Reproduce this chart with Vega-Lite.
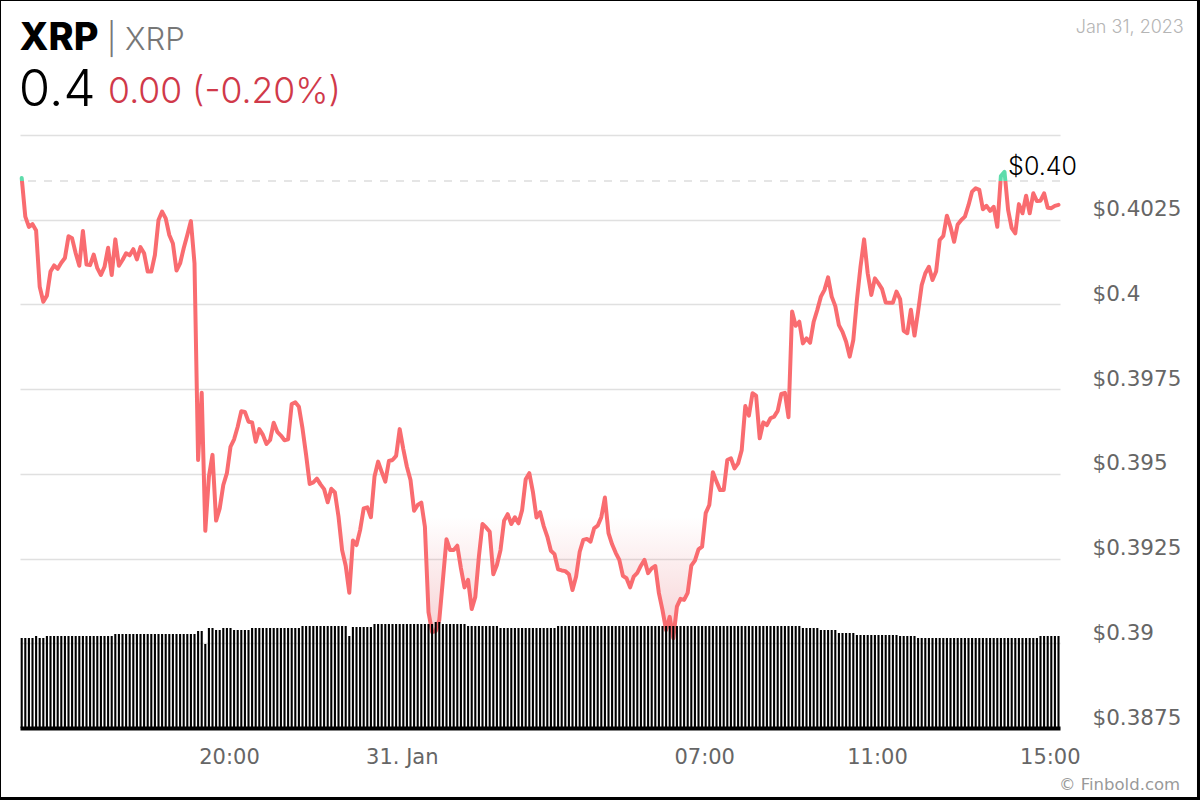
{"$schema":"https://vega.github.io/schema/vega-lite/v6.json","width":1040,"height":593,"autosize":{"type":"none"},"padding":{"left":20,"top":135,"right":140,"bottom":72},"background":"#ffffff","config":{"view":{"stroke":null}},
"data":{"values":[
{"t":"2023-01-30T15:10Z","p":0.40373,"v":90},{"t":"2023-01-30T15:15Z","p":0.40259,"v":90},{"t":"2023-01-30T15:20Z","p":0.40229,"v":90},{"t":"2023-01-30T15:25Z","p":0.40237,"v":90},{"t":"2023-01-30T15:30Z","p":0.40218,"v":92},{"t":"2023-01-30T15:35Z","p":0.40052,"v":90},{"t":"2023-01-30T15:40Z","p":0.40008,"v":90},{"t":"2023-01-30T15:45Z","p":0.40026,"v":92},{"t":"2023-01-30T15:50Z","p":0.40097,"v":92},{"t":"2023-01-30T15:55Z","p":0.40115,"v":92},
{"t":"2023-01-30T16:00Z","p":0.40105,"v":92},{"t":"2023-01-30T16:05Z","p":0.40123,"v":92},{"t":"2023-01-30T16:10Z","p":0.40137,"v":92},{"t":"2023-01-30T16:15Z","p":0.40201,"v":92},{"t":"2023-01-30T16:20Z","p":0.40195,"v":92},{"t":"2023-01-30T16:25Z","p":0.40151,"v":92},{"t":"2023-01-30T16:30Z","p":0.40114,"v":92},{"t":"2023-01-30T16:35Z","p":0.40217,"v":92},{"t":"2023-01-30T16:40Z","p":0.40118,"v":92},{"t":"2023-01-30T16:45Z","p":0.40116,"v":92},{"t":"2023-01-30T16:50Z","p":0.40147,"v":92},{"t":"2023-01-30T16:55Z","p":0.40107,"v":92},
{"t":"2023-01-30T17:00Z","p":0.40087,"v":92},{"t":"2023-01-30T17:05Z","p":0.40111,"v":92},{"t":"2023-01-30T17:10Z","p":0.40167,"v":92},{"t":"2023-01-30T17:15Z","p":0.40087,"v":92},{"t":"2023-01-30T17:20Z","p":0.40192,"v":94},{"t":"2023-01-30T17:25Z","p":0.40114,"v":94},{"t":"2023-01-30T17:30Z","p":0.40131,"v":94},{"t":"2023-01-30T17:35Z","p":0.40151,"v":94},{"t":"2023-01-30T17:40Z","p":0.40145,"v":94},{"t":"2023-01-30T17:45Z","p":0.40163,"v":94},{"t":"2023-01-30T17:50Z","p":0.40133,"v":94},{"t":"2023-01-30T17:55Z","p":0.40169,"v":94},
{"t":"2023-01-30T18:00Z","p":0.40151,"v":94},{"t":"2023-01-30T18:05Z","p":0.40097,"v":94},{"t":"2023-01-30T18:10Z","p":0.40097,"v":94},{"t":"2023-01-30T18:15Z","p":0.40146,"v":94},{"t":"2023-01-30T18:20Z","p":0.40249,"v":94},{"t":"2023-01-30T18:25Z","p":0.40274,"v":94},{"t":"2023-01-30T18:30Z","p":0.40254,"v":94},{"t":"2023-01-30T18:35Z","p":0.40205,"v":94},{"t":"2023-01-30T18:40Z","p":0.4018,"v":94},{"t":"2023-01-30T18:45Z","p":0.401,"v":94},{"t":"2023-01-30T18:50Z","p":0.40121,"v":94},{"t":"2023-01-30T18:55Z","p":0.40166,"v":94},
{"t":"2023-01-30T19:00Z","p":0.40205,"v":94},{"t":"2023-01-30T19:05Z","p":0.40246,"v":94},{"t":"2023-01-30T19:10Z","p":0.40121,"v":94},{"t":"2023-01-30T19:15Z","p":0.39541,"v":97},{"t":"2023-01-30T19:20Z","p":0.39739,"v":97},{"t":"2023-01-30T19:25Z","p":0.39332,"v":84},{"t":"2023-01-30T19:30Z","p":0.39492,"v":100},{"t":"2023-01-30T19:35Z","p":0.39556,"v":100},{"t":"2023-01-30T19:40Z","p":0.39362,"v":98},{"t":"2023-01-30T19:45Z","p":0.39398,"v":98},{"t":"2023-01-30T19:50Z","p":0.39467,"v":100},{"t":"2023-01-30T19:55Z","p":0.39502,"v":100},
{"t":"2023-01-30T20:00Z","p":0.3958,"v":100},{"t":"2023-01-30T20:05Z","p":0.39602,"v":98},{"t":"2023-01-30T20:10Z","p":0.39639,"v":98},{"t":"2023-01-30T20:15Z","p":0.39685,"v":98},{"t":"2023-01-30T20:20Z","p":0.39683,"v":98},{"t":"2023-01-30T20:25Z","p":0.39654,"v":98},{"t":"2023-01-30T20:30Z","p":0.39652,"v":100},{"t":"2023-01-30T20:35Z","p":0.39595,"v":100},{"t":"2023-01-30T20:40Z","p":0.39632,"v":100},{"t":"2023-01-30T20:45Z","p":0.39615,"v":100},{"t":"2023-01-30T20:50Z","p":0.39588,"v":100},{"t":"2023-01-30T20:55Z","p":0.396,"v":100},
{"t":"2023-01-30T21:00Z","p":0.39651,"v":100},{"t":"2023-01-30T21:05Z","p":0.39624,"v":100},{"t":"2023-01-30T21:10Z","p":0.39613,"v":100},{"t":"2023-01-30T21:15Z","p":0.39599,"v":100},{"t":"2023-01-30T21:20Z","p":0.39602,"v":100},{"t":"2023-01-30T21:25Z","p":0.39706,"v":100},{"t":"2023-01-30T21:30Z","p":0.39711,"v":100},{"t":"2023-01-30T21:35Z","p":0.39698,"v":100},{"t":"2023-01-30T21:40Z","p":0.39634,"v":102},{"t":"2023-01-30T21:45Z","p":0.39556,"v":102},{"t":"2023-01-30T21:50Z","p":0.3947,"v":102},{"t":"2023-01-30T21:55Z","p":0.39475,"v":102},
{"t":"2023-01-30T22:00Z","p":0.39486,"v":102},{"t":"2023-01-30T22:05Z","p":0.39469,"v":102},{"t":"2023-01-30T22:10Z","p":0.39455,"v":102},{"t":"2023-01-30T22:15Z","p":0.39416,"v":102},{"t":"2023-01-30T22:20Z","p":0.39456,"v":102},{"t":"2023-01-30T22:25Z","p":0.39445,"v":102},{"t":"2023-01-30T22:30Z","p":0.39374,"v":102},{"t":"2023-01-30T22:35Z","p":0.39275,"v":102},{"t":"2023-01-30T22:40Z","p":0.39229,"v":102},{"t":"2023-01-30T22:45Z","p":0.39149,"v":92},{"t":"2023-01-30T22:50Z","p":0.39303,"v":101},{"t":"2023-01-30T22:55Z","p":0.3929,"v":101},
{"t":"2023-01-30T23:00Z","p":0.39334,"v":101},{"t":"2023-01-30T23:05Z","p":0.39398,"v":101},{"t":"2023-01-30T23:10Z","p":0.39401,"v":101},{"t":"2023-01-30T23:15Z","p":0.39372,"v":101},{"t":"2023-01-30T23:20Z","p":0.39492,"v":104},{"t":"2023-01-30T23:25Z","p":0.39536,"v":104},{"t":"2023-01-30T23:30Z","p":0.39506,"v":104},{"t":"2023-01-30T23:35Z","p":0.39477,"v":104},{"t":"2023-01-30T23:40Z","p":0.39538,"v":104},{"t":"2023-01-30T23:45Z","p":0.39541,"v":104},{"t":"2023-01-30T23:50Z","p":0.39553,"v":104},{"t":"2023-01-30T23:55Z","p":0.39632,"v":104},
{"t":"2023-01-31T00:00Z","p":0.39573,"v":104},{"t":"2023-01-31T00:05Z","p":0.39521,"v":104},{"t":"2023-01-31T00:10Z","p":0.39482,"v":104},{"t":"2023-01-31T00:15Z","p":0.39391,"v":104},{"t":"2023-01-31T00:20Z","p":0.39408,"v":104},{"t":"2023-01-31T00:25Z","p":0.39415,"v":104},{"t":"2023-01-31T00:30Z","p":0.39344,"v":104},{"t":"2023-01-31T00:35Z","p":0.39092,"v":104},{"t":"2023-01-31T00:40Z","p":0.39033,"v":104},{"t":"2023-01-31T00:45Z","p":0.39036,"v":106},{"t":"2023-01-31T00:50Z","p":0.39069,"v":106},{"t":"2023-01-31T00:55Z","p":0.39187,"v":104},
{"t":"2023-01-31T01:00Z","p":0.39307,"v":104},{"t":"2023-01-31T01:05Z","p":0.39275,"v":104},{"t":"2023-01-31T01:10Z","p":0.39275,"v":104},{"t":"2023-01-31T01:15Z","p":0.39288,"v":104},{"t":"2023-01-31T01:20Z","p":0.39222,"v":104},{"t":"2023-01-31T01:25Z","p":0.39165,"v":104},{"t":"2023-01-31T01:30Z","p":0.39187,"v":102},{"t":"2023-01-31T01:35Z","p":0.39101,"v":102},{"t":"2023-01-31T01:40Z","p":0.39137,"v":102},{"t":"2023-01-31T01:45Z","p":0.39256,"v":102},{"t":"2023-01-31T01:50Z","p":0.39352,"v":102},{"t":"2023-01-31T01:55Z","p":0.39342,"v":102},
{"t":"2023-01-31T02:00Z","p":0.39329,"v":102},{"t":"2023-01-31T02:05Z","p":0.39204,"v":102},{"t":"2023-01-31T02:10Z","p":0.39231,"v":102},{"t":"2023-01-31T02:15Z","p":0.39275,"v":100},{"t":"2023-01-31T02:20Z","p":0.39362,"v":100},{"t":"2023-01-31T02:25Z","p":0.39381,"v":100},{"t":"2023-01-31T02:30Z","p":0.39352,"v":100},{"t":"2023-01-31T02:35Z","p":0.39372,"v":100},{"t":"2023-01-31T02:40Z","p":0.39354,"v":100},{"t":"2023-01-31T02:45Z","p":0.39393,"v":100},{"t":"2023-01-31T02:50Z","p":0.39484,"v":100},{"t":"2023-01-31T02:55Z","p":0.39502,"v":100},
{"t":"2023-01-31T03:00Z","p":0.39447,"v":100},{"t":"2023-01-31T03:05Z","p":0.39371,"v":100},{"t":"2023-01-31T03:10Z","p":0.39387,"v":100},{"t":"2023-01-31T03:15Z","p":0.39346,"v":100},{"t":"2023-01-31T03:20Z","p":0.39315,"v":100},{"t":"2023-01-31T03:25Z","p":0.39273,"v":100},{"t":"2023-01-31T03:30Z","p":0.39263,"v":100},{"t":"2023-01-31T03:35Z","p":0.39218,"v":102},{"t":"2023-01-31T03:40Z","p":0.39215,"v":102},{"t":"2023-01-31T03:45Z","p":0.39213,"v":102},{"t":"2023-01-31T03:50Z","p":0.39204,"v":102},{"t":"2023-01-31T03:55Z","p":0.39157,"v":102},
{"t":"2023-01-31T04:00Z","p":0.39197,"v":102},{"t":"2023-01-31T04:05Z","p":0.3927,"v":102},{"t":"2023-01-31T04:10Z","p":0.39305,"v":102},{"t":"2023-01-31T04:15Z","p":0.39308,"v":102},{"t":"2023-01-31T04:20Z","p":0.393,"v":102},{"t":"2023-01-31T04:25Z","p":0.39339,"v":102},{"t":"2023-01-31T04:30Z","p":0.39347,"v":102},{"t":"2023-01-31T04:35Z","p":0.39372,"v":102},{"t":"2023-01-31T04:40Z","p":0.3943,"v":102},{"t":"2023-01-31T04:45Z","p":0.39325,"v":102},{"t":"2023-01-31T04:50Z","p":0.39292,"v":102},{"t":"2023-01-31T04:55Z","p":0.39267,"v":102},
{"t":"2023-01-31T05:00Z","p":0.39246,"v":102},{"t":"2023-01-31T05:05Z","p":0.39199,"v":102},{"t":"2023-01-31T05:10Z","p":0.39192,"v":102},{"t":"2023-01-31T05:15Z","p":0.39165,"v":102},{"t":"2023-01-31T05:20Z","p":0.39197,"v":102},{"t":"2023-01-31T05:25Z","p":0.39208,"v":102},{"t":"2023-01-31T05:30Z","p":0.39229,"v":102},{"t":"2023-01-31T05:35Z","p":0.39246,"v":102},{"t":"2023-01-31T05:40Z","p":0.39207,"v":102},{"t":"2023-01-31T05:45Z","p":0.39221,"v":102},{"t":"2023-01-31T05:50Z","p":0.39228,"v":102},{"t":"2023-01-31T05:55Z","p":0.39148,"v":102},
{"t":"2023-01-31T06:00Z","p":0.39098,"v":102},{"t":"2023-01-31T06:05Z","p":0.39039,"v":102},{"t":"2023-01-31T06:10Z","p":0.39078,"v":102},{"t":"2023-01-31T06:15Z","p":0.39015,"v":102},{"t":"2023-01-31T06:20Z","p":0.39108,"v":102},{"t":"2023-01-31T06:25Z","p":0.39131,"v":102},{"t":"2023-01-31T06:30Z","p":0.39128,"v":102},{"t":"2023-01-31T06:35Z","p":0.39149,"v":102},{"t":"2023-01-31T06:40Z","p":0.39229,"v":102},{"t":"2023-01-31T06:45Z","p":0.39244,"v":102},{"t":"2023-01-31T06:50Z","p":0.39277,"v":102},{"t":"2023-01-31T06:55Z","p":0.39285,"v":102},
{"t":"2023-01-31T07:00Z","p":0.39384,"v":102},{"t":"2023-01-31T07:05Z","p":0.39408,"v":102},{"t":"2023-01-31T07:10Z","p":0.39505,"v":102},{"t":"2023-01-31T07:15Z","p":0.39477,"v":102},{"t":"2023-01-31T07:20Z","p":0.39452,"v":102},{"t":"2023-01-31T07:25Z","p":0.39452,"v":102},{"t":"2023-01-31T07:30Z","p":0.39541,"v":102},{"t":"2023-01-31T07:35Z","p":0.39546,"v":102},{"t":"2023-01-31T07:40Z","p":0.39516,"v":102},{"t":"2023-01-31T07:45Z","p":0.39531,"v":102},{"t":"2023-01-31T07:50Z","p":0.3957,"v":102},{"t":"2023-01-31T07:55Z","p":0.397,"v":102},
{"t":"2023-01-31T08:00Z","p":0.39672,"v":102},{"t":"2023-01-31T08:05Z","p":0.39738,"v":102},{"t":"2023-01-31T08:10Z","p":0.39731,"v":102},{"t":"2023-01-31T08:15Z","p":0.39605,"v":102},{"t":"2023-01-31T08:20Z","p":0.39652,"v":102},{"t":"2023-01-31T08:25Z","p":0.39644,"v":102},{"t":"2023-01-31T08:30Z","p":0.39664,"v":102},{"t":"2023-01-31T08:35Z","p":0.39669,"v":102},{"t":"2023-01-31T08:40Z","p":0.39686,"v":102},{"t":"2023-01-31T08:45Z","p":0.39736,"v":102},{"t":"2023-01-31T08:50Z","p":0.39739,"v":102},{"t":"2023-01-31T08:55Z","p":0.39667,"v":102},
{"t":"2023-01-31T09:00Z","p":0.39979,"v":102},{"t":"2023-01-31T09:05Z","p":0.39937,"v":102},{"t":"2023-01-31T09:10Z","p":0.39949,"v":102},{"t":"2023-01-31T09:15Z","p":0.39885,"v":100},{"t":"2023-01-31T09:20Z","p":0.399,"v":100},{"t":"2023-01-31T09:25Z","p":0.39887,"v":100},{"t":"2023-01-31T09:30Z","p":0.39949,"v":100},{"t":"2023-01-31T09:35Z","p":0.39984,"v":100},{"t":"2023-01-31T09:40Z","p":0.40023,"v":98},{"t":"2023-01-31T09:45Z","p":0.40043,"v":98},{"t":"2023-01-31T09:50Z","p":0.4008,"v":98},{"t":"2023-01-31T09:55Z","p":0.40023,"v":98},
{"t":"2023-01-31T10:00Z","p":0.39995,"v":98},{"t":"2023-01-31T10:05Z","p":0.39939,"v":95},{"t":"2023-01-31T10:10Z","p":0.39919,"v":95},{"t":"2023-01-31T10:15Z","p":0.3989,"v":95},{"t":"2023-01-31T10:20Z","p":0.39846,"v":95},{"t":"2023-01-31T10:25Z","p":0.39895,"v":95},{"t":"2023-01-31T10:30Z","p":0.40013,"v":93},{"t":"2023-01-31T10:35Z","p":0.40111,"v":93},{"t":"2023-01-31T10:40Z","p":0.40192,"v":93},{"t":"2023-01-31T10:45Z","p":0.40092,"v":93},{"t":"2023-01-31T10:50Z","p":0.40028,"v":93},{"t":"2023-01-31T10:55Z","p":0.40077,"v":93},
{"t":"2023-01-31T11:00Z","p":0.40062,"v":93},{"t":"2023-01-31T11:05Z","p":0.40045,"v":93},{"t":"2023-01-31T11:10Z","p":0.40006,"v":93},{"t":"2023-01-31T11:15Z","p":0.40005,"v":93},{"t":"2023-01-31T11:20Z","p":0.40005,"v":93},{"t":"2023-01-31T11:25Z","p":0.40038,"v":93},{"t":"2023-01-31T11:30Z","p":0.40016,"v":92},{"t":"2023-01-31T11:35Z","p":0.39922,"v":92},{"t":"2023-01-31T11:40Z","p":0.39915,"v":92},{"t":"2023-01-31T11:45Z","p":0.39984,"v":92},{"t":"2023-01-31T11:50Z","p":0.39908,"v":92},{"t":"2023-01-31T11:55Z","p":0.39979,"v":90},
{"t":"2023-01-31T12:00Z","p":0.40057,"v":90},{"t":"2023-01-31T12:05Z","p":0.40092,"v":90},{"t":"2023-01-31T12:10Z","p":0.40111,"v":90},{"t":"2023-01-31T12:15Z","p":0.40072,"v":90},{"t":"2023-01-31T12:20Z","p":0.40097,"v":90},{"t":"2023-01-31T12:25Z","p":0.4019,"v":90},{"t":"2023-01-31T12:30Z","p":0.40202,"v":90},{"t":"2023-01-31T12:35Z","p":0.40262,"v":90},{"t":"2023-01-31T12:40Z","p":0.40229,"v":90},{"t":"2023-01-31T12:45Z","p":0.40185,"v":90},{"t":"2023-01-31T12:50Z","p":0.40236,"v":90},{"t":"2023-01-31T12:55Z","p":0.40249,"v":90},
{"t":"2023-01-31T13:00Z","p":0.40259,"v":90},{"t":"2023-01-31T13:05Z","p":0.40293,"v":90},{"t":"2023-01-31T13:10Z","p":0.40333,"v":90},{"t":"2023-01-31T13:15Z","p":0.40343,"v":90},{"t":"2023-01-31T13:20Z","p":0.40338,"v":90},{"t":"2023-01-31T13:25Z","p":0.40281,"v":90},{"t":"2023-01-31T13:30Z","p":0.40291,"v":90},{"t":"2023-01-31T13:35Z","p":0.40276,"v":90},{"t":"2023-01-31T13:40Z","p":0.40288,"v":90},{"t":"2023-01-31T13:45Z","p":0.40229,"v":90},{"t":"2023-01-31T13:50Z","p":0.40379,"v":90},{"t":"2023-01-31T13:55Z","p":0.40391,"v":90},
{"t":"2023-01-31T14:00Z","p":0.40279,"v":90},{"t":"2023-01-31T14:05Z","p":0.40225,"v":90},{"t":"2023-01-31T14:10Z","p":0.4021,"v":90},{"t":"2023-01-31T14:15Z","p":0.40296,"v":90},{"t":"2023-01-31T14:20Z","p":0.40269,"v":90},{"t":"2023-01-31T14:25Z","p":0.40321,"v":90},{"t":"2023-01-31T14:30Z","p":0.40269,"v":90},{"t":"2023-01-31T14:35Z","p":0.40328,"v":90},{"t":"2023-01-31T14:40Z","p":0.40305,"v":90},{"t":"2023-01-31T14:45Z","p":0.40306,"v":92},{"t":"2023-01-31T14:50Z","p":0.40328,"v":92},{"t":"2023-01-31T14:55Z","p":0.40285,"v":92},
{"t":"2023-01-31T15:00Z","p":0.40284,"v":92},{"t":"2023-01-31T15:05Z","p":0.40291,"v":92},{"t":"2023-01-31T15:10Z","p":0.40294,"v":92}
]},
"layer":[
{"layer":[
{"mark":{"type":"area","fill":{"gradient":"linear","x1":0,"y1":0,"x2":0,"y2":1,"stops":[{"offset":0.74,"color":"rgba(222,70,80,0)"},{"offset":1,"color":"rgba(222,70,80,0.25)"}]}},
"encoding":{
"x":{"field":"t","type":"temporal","title":null,"scale":{"type":"utc","padding":0,"domain":["2023-01-30T15:07:38Z","2023-01-31T15:12:05Z"]},"axis":{"values":["2023-01-30T20:00Z","2023-01-31T00:00Z","2023-01-31T07:00Z","2023-01-31T11:00Z","2023-01-31T15:00Z"],"labelExpr":"utcFormat(datum.value,'%H:%M')=='00:00' ? '31. Jan' : utcFormat(datum.value,'%H:%M')","grid":false,"ticks":false,"domainColor":"#000000","domainWidth":4,"labelFont":"DejaVu Sans","labelFontSize":21,"labelColor":"#666666","labelPadding":18,"labelOffset":-1.5,"labelOverlap":false,"labelFlush":false}},
"y":{"field":"p","type":"quantitative","title":null,"scale":{"domain":[0.3875,0.405],"zero":false,"nice":false},"axis":{"orient":"right","values":[0.3875,0.39,0.3925,0.395,0.3975,0.4,0.4025,0.405],"labelExpr":"datum.value>0.4049 ? '' : '$'+format(datum.value,'.4~f')","grid":true,"gridColor":"#e0e0e0","gridWidth":1.5,"ticks":false,"domain":false,"labelFont":"DejaVu Sans","labelFontSize":21.5,"labelColor":"#666666","labelPadding":32,"labelOffset":-10,"labelFlush":false}},
"y2":{"datum":0.40364}}},
{"data":{"values":[{"close":0.40364}]},"mark":{"type":"rule","color":"#dddddd","strokeWidth":1.5,"strokeDash":[8,8]},"encoding":{"y":{"field":"close","type":"quantitative"}}},
{"mark":{"type":"line","strokeWidth":4,"strokeJoin":"round","strokeCap":"round","stroke":{"gradient":"linear","x1":0,"y1":0,"x2":0,"y2":1,"stops":[{"offset":0,"color":"#5fdcab"},{"offset":0.0193,"color":"#5fdcab"},{"offset":0.0193,"color":"#f96c70"},{"offset":1,"color":"#f96c70"}]}},
"encoding":{"x":{"field":"t","type":"temporal"},"y":{"field":"p","type":"quantitative"}}},
{"data":{"values":[{"label":"XRP"}]},"mark":{"type":"text","font":"Inter","fontSize":38,"fontWeight":800,"color":"#000000","align":"left","baseline":"alphabetic"},"encoding":{"text":{"field":"label"},"x":{"datum":{"year":2023,"month":1,"date":30,"hours":15,"minutes":7,"seconds":0,"utc":true},"type":"temporal"},"y":{"datum":0.407508,"type":"quantitative"}}},
{"data":{"values":[{"label":"0.4"}]},"mark":{"type":"text","font":"Inter","fontSize":51,"fontWeight":300,"color":"#000000","align":"left","baseline":"alphabetic"},"encoding":{"text":{"field":"label"},"x":{"datum":{"year":2023,"month":1,"date":30,"hours":15,"minutes":6,"seconds":0,"utc":true},"type":"temporal"},"y":{"datum":0.405855,"type":"quantitative"}}},
{"data":{"values":[{"label":"| XRP"}]},"mark":{"type":"text","font":"Inter","fontSize":31,"fontWeight":300,"color":"#777777","align":"left","baseline":"alphabetic"},"encoding":{"text":{"field":"label"},"x":{"datum":{"year":2023,"month":1,"date":30,"hours":17,"minutes":8,"utc":true},"type":"temporal"},"y":{"datum":0.407508,"type":"quantitative"}}},
{"data":{"values":[{"label":"0.00 (-0.20%)"}]},"mark":{"type":"text","font":"Inter","fontSize":35.5,"fontWeight":300,"color":"#d0394a","align":"left","baseline":"alphabetic"},"encoding":{"text":{"field":"label"},"x":{"datum":{"year":2023,"month":1,"date":30,"hours":17,"minutes":10,"utc":true},"type":"temporal"},"y":{"datum":0.405943,"type":"quantitative"}}},
{"data":{"values":[{"label":"Jan 31, 2023"}]},"mark":{"type":"text","font":"Inter","fontSize":18,"fontWeight":300,"color":"#b5b5b5","align":"right","baseline":"alphabetic"},"encoding":{"text":{"field":"label"},"x":{"datum":{"year":2023,"month":1,"date":31,"hours":18,"minutes":4,"utc":true},"type":"temporal"},"y":{"datum":0.408009,"type":"quantitative"}}},
{"data":{"values":[{"label":"$0.40"}]},"mark":{"type":"text","font":"Inter","fontSize":25,"fontWeight":300,"color":"#000000","align":"left","baseline":"alphabetic"},"encoding":{"text":{"field":"label"},"x":{"datum":{"year":2023,"month":1,"date":31,"hours":14,"minutes":0,"utc":true},"type":"temporal"},"y":{"datum":0.403819,"type":"quantitative"}}},
{"data":{"values":[{"label":"© Finbold.com"}]},"mark":{"type":"text","font":"DejaVu Sans","fontSize":16.5,"color":"#999999","align":"right","baseline":"alphabetic"},"encoding":{"text":{"field":"label"},"x":{"datum":{"year":2023,"month":1,"date":31,"hours":17,"minutes":59,"utc":true},"type":"temporal"},"y":{"datum":0.38567,"type":"quantitative"}}},
{"data":{"values":[{"frame":"window"}]},"mark":{"type":"rect","fill":"transparent","stroke":"#000000","strokeWidth":3},"encoding":{"x":{"datum":{"year":2023,"month":1,"date":30,"hours":14,"minutes":39,"seconds":10,"utc":true},"type":"temporal"},"x2":{"datum":{"year":2023,"month":1,"date":31,"hours":18,"minutes":24,"seconds":26,"utc":true}},"y":{"datum":0.408998,"type":"quantitative"},"y2":{"datum":0.385419}}}
]},
{"mark":{"type":"bar","color":"#000000","size":2.1},"encoding":{"x":{"field":"t","type":"temporal"},"y":{"field":"v","type":"quantitative","axis":null,"scale":{"domain":[0,593],"nice":false}}}}
],
"resolve":{"scale":{"y":"independent"}}}
